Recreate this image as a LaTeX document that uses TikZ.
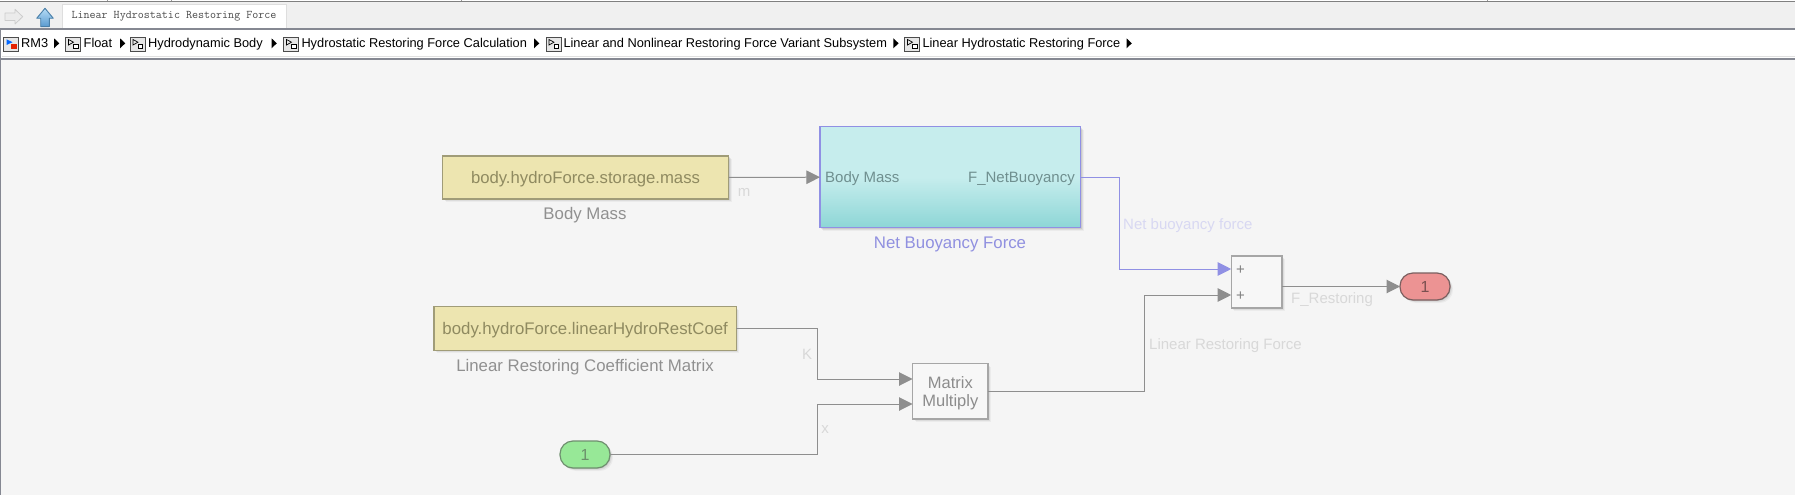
\documentclass[tikz,border=0pt]{standalone}
\usepackage{fontspec}
\setmainfont{Liberation Sans}
\usetikzlibrary{arrows.meta,shadows}
\definecolor{bgc}{HTML}{F5F5F5}
\definecolor{stripc}{HTML}{F0F0F0}
\definecolor{framec}{HTML}{858892}
\definecolor{wirec}{HTML}{8E8E8E}
\definecolor{bluewire}{HTML}{9090E4}
\definecolor{labelc}{HTML}{909090}
\definecolor{siglabel}{HTML}{D8D8D8}
\definecolor{bluesig}{HTML}{D8D8F2}
\definecolor{bluename}{HTML}{9090E0}
\definecolor{consfill}{HTML}{EDE5B0}
\definecolor{consdraw}{HTML}{A09C78}
\definecolor{constext}{HTML}{8F8A60}
\definecolor{blockdraw}{HTML}{A6A6A6}
\definecolor{blockfill}{HTML}{F7F7F7}
\definecolor{blocktext}{HTML}{8C8C8C}
\definecolor{iconc}{HTML}{E6E6E6}
\definecolor{tealtop}{HTML}{C6EDED}
\definecolor{tealbot}{HTML}{8DD6D6}
\definecolor{tealtext}{HTML}{6F8F8F}
\definecolor{greenfill}{HTML}{97E897}
\definecolor{greendraw}{HTML}{6F8F6F}
\definecolor{greentext}{HTML}{6B8F6B}
\definecolor{redfill}{HTML}{EC9393}
\definecolor{reddraw}{HTML}{7A5F5F}
\definecolor{redtext}{HTML}{7A5050}
\definecolor{arrowtop}{HTML}{B5DCF5}
\definecolor{arrowbot}{HTML}{5A9AD0}
\definecolor{arrowdraw}{HTML}{4A7FA8}
\pgfdeclareverticalshading{tealgrad}{100bp}{color(0bp)=(tealbot); color(25bp)=(tealbot); color(50bp)=(tealtop); color(100bp)=(tealtop)}
\newcommand{\crumbicon}[1]{%
  \draw[draw=black!70,fill=iconc,line width=.8pt] (#1,37.3) rectangle ++(15,14);
  \draw[draw=black,line width=.7pt] (#1+3,39.5) -- (#1+3,45) -- (#1+8,42.2) -- cycle;
  \draw[draw=black,fill=white,line width=.7pt] (#1+8,44.5) rectangle ++(4.5,4);
}
\tikzset{
  softshadow/.style={
    drop shadow={shadow xshift=1pt,shadow yshift=-1pt,fill=black,opacity=.08},
    drop shadow={shadow xshift=2pt,shadow yshift=-2pt,fill=black,opacity=.06},
    drop shadow={shadow xshift=3pt,shadow yshift=-3pt,fill=black,opacity=.04}},
  block/.style={rectangle,inner sep=0pt,outer sep=0pt,line width=1.2pt,softshadow},
  constblock/.style={block,draw=consdraw,fill=consfill,text=constext,text depth=0pt,font=\fontsize{16.7}{18}\selectfont},
  plainblock/.style={block,draw=blockdraw,fill=blockfill,text=blocktext,font=\fontsize{16.5}{17.7}\selectfont,align=center},
  pill/.style={block,rounded corners=13pt,minimum width=50pt,minimum height=27pt,font=\fontsize{16}{18}\selectfont},
  namelabel/.style={text=labelc,font=\fontsize{16.8}{18}\selectfont,inner sep=0pt},
  siglab/.style={text=siglabel,font=\fontsize{15}{17}\selectfont,inner sep=0pt},
  wire/.style={draw=wirec,line width=1pt},
  arrowwire/.style={wire,-{Triangle[length=13.5pt,width=13.5pt,fill=wirec]}},
  bluearrow/.style={draw=bluewire,line width=1pt,-{Triangle[length=13.5pt,width=13.5pt,fill=bluewire]}},
  crumb/.style={anchor=base west,inner sep=0pt,text=black,font=\fontsize{12.8}{14}\selectfont},
  crumbsep/.style={fill=black},
}
\begin{document}
\begin{tikzpicture}[x=1pt,y=-1pt]
\useasboundingbox (0,0) rectangle (1795,495);
% window
\fill[bgc] (0,0) rectangle (1795,495);
\fill[stripc] (0,0) rectangle (1795,29);
\fill[white] (0,0) rectangle (1795,1);
\fill[black!50] (0,1) rectangle (1795,2);
\foreach \tx in {107,171,461,1487} \fill[black!40] (\tx,0) rectangle ++(1,1);
% tab
\node[rectangle,draw=black!13,fill=white,minimum width=224pt,minimum height=25pt,inner sep=0pt,
      text=black!70,font=\ttfamily\fontsize{11.7}{13}\selectfont] (tab) at (174,16.5) {Linear Hydrostatic Restoring Force};
% bar
\fill[white] (0,30) rectangle (1795,58);
\fill[framec] (0,28.5) rectangle (1795,30.3);
\fill[black!12] (2,56) rectangle (1795,57);
\fill[framec] (0,58) rectangle (1795,60);
\fill[framec] (0,30) rectangle (1.2,495);
% nav arrows
\draw[draw=black!20,fill=black!8,line width=.8pt,line join=round] (5,13) -- (15,13) -- (15,9.3) -- (22.7,16.7) -- (15,24) -- (15,20.5) -- (5,20.5) -- cycle;
\draw[draw=arrowdraw,top color=arrowtop,bottom color=arrowbot,line width=.9pt,line join=round]
  (45,8.3) -- (53.3,18.3) -- (49.3,18.3) -- (49.3,26.7) -- (40.7,26.7) -- (40.7,18.3) -- (36.7,18.3) -- cycle;
% breadcrumb
\draw[draw=black!70,fill=iconc,line width=.8pt] (3.8,37.3) rectangle ++(15,14);
\fill[blue!60!cyan] (6.5,39.3) -- (6.5,45) -- (12.5,42.2) -- cycle;
\fill[red!70!orange!90!black] (11,44) rectangle ++(5.5,5.5);
\node[crumb] (c1) at (21,48) {RM3};
\fill[crumbsep] (54,38.3) -- (59.3,43.3) -- (54,48.3) -- cycle;
\crumbicon{65.5}
\node[crumb] (c2) at (83.5,48) {Float};
\fill[crumbsep] (120,38.3) -- (125.3,43.3) -- (120,48.3) -- cycle;
\crumbicon{130}
\node[crumb] (c3) at (148,48) {Hydrodynamic Body};
\fill[crumbsep] (271.5,38.3) -- (276.8,43.3) -- (271.5,48.3) -- cycle;
\crumbicon{283.5}
\node[crumb] (c4) at (301.3,48) {Hydrostatic Restoring Force Calculation};
\fill[crumbsep] (534,38.3) -- (539.3,43.3) -- (534,48.3) -- cycle;
\crumbicon{546}
\node[crumb] (c5) at (563.3,48) {Linear and Nonlinear Restoring Force Variant Subsystem};
\fill[crumbsep] (893.3,38.3) -- (898.6,43.3) -- (893.3,48.3) -- cycle;
\crumbicon{904.5}
\node[crumb] (c6) at (922.3,48) {Linear Hydrostatic Restoring Force};
\fill[crumbsep] (1126.5,38.3) -- (1131.8,43.3) -- (1126.5,48.3) -- cycle;
% blocks
\node[constblock,minimum width=286pt,minimum height=43pt] (mass) at (585.5,177.5) {body.hydroForce.storage.mass};
\node[namelabel] (massname) at (585,215) {Body Mass};
\node[block,draw=bluewire,line width=1.3pt,shading=tealgrad,
      minimum width=260.7pt,minimum height=101pt] (nb) at (950.3,177.2) {};
\node[anchor=west,inner sep=0pt,text=tealtext,font=\fontsize{15}{17}\selectfont] (nbin) at (825,179) {Body Mass};
\node[anchor=east,inner sep=0pt,text=tealtext,font=\fontsize{15}{17}\selectfont] (nbout) at (1075,179) {F\_NetBuoyancy};
\node[namelabel,text=bluename] (nbname) at (950,244) {Net Buoyancy Force};
\node[constblock,font=\fontsize{16.8}{18}\selectfont,minimum width=302.5pt,minimum height=43.6pt] (coef) at (585.2,328.5) {body.hydroForce.linearHydroRestCoef};
\node[namelabel] (coefname) at (585,367) {Linear Restoring Coefficient Matrix};
\node[plainblock,minimum width=75.5pt,minimum height=55.3pt,text depth=0pt] (mm) at (950.3,391.3) {Matrix\\Multiply};
\node[block,draw=blockdraw,fill=blockfill,minimum width=50.7pt,minimum height=52pt] (sum) at (1256.6,282) {};
\node[inner sep=0pt,text=black!50,font=\fontsize{15}{17}\selectfont] (plusa) at (1240.5,270) {+};
\node[inner sep=0pt,text=black!50,font=\fontsize{15}{17}\selectfont] (plusb) at (1240.5,296) {+};
\node[pill,draw=greendraw,fill=greenfill,text=greentext] (inp) at (585,454.5) {1};
\node[pill,draw=reddraw,fill=redfill,text=redtext] (outp) at (1425,286.5) {1};
% ports and bends
\coordinate (mmk) at (912.5,379);
\coordinate (mmx) at (912.5,404);
\coordinate (suma) at (1231.2,269);
\coordinate (sumb) at (1231.2,295);
\coordinate (bendk) at (817.6,350);
\coordinate (bendx) at (817.6,430);
\coordinate (bendb) at (1119.3,220);
\coordinate (bendr) at (1144.3,340);
% connectors
\draw[arrowwire] (mass.east) -- (nb.west);
\draw[bluearrow] (nb.east) -| (bendb) |- (suma);
\draw[arrowwire] (coef.east) -| (bendk) |- (mmk);
\draw[arrowwire] (inp.east) -| (bendx) |- (mmx);
\draw[arrowwire] (mm.east) -| (bendr) |- (sumb);
\draw[arrowwire] (sum.east |- outp.west) -- (outp.west);
% signal labels
\node[siglab] (sm) at (744,192) {m};
\node[siglab] (sk) at (807,354) {K};
\node[siglab] (sx) at (825,430) {x};
\node[siglab,text=bluesig,anchor=west] (snb) at (1123,225.5) {Net buoyancy force};
\node[siglab,anchor=west] (slr) at (1149,346) {Linear Restoring Force};
\node[siglab] (sfr) at (1332,300) {F\_Restoring};
\end{tikzpicture}
\end{document}
